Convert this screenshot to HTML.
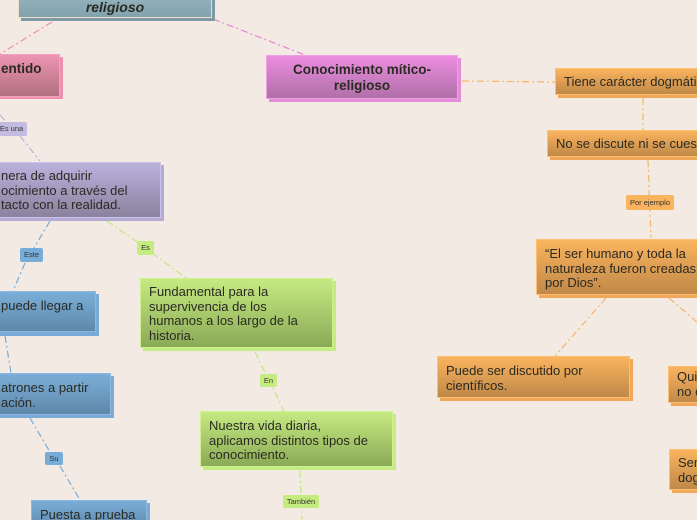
<!DOCTYPE html>
<html><head><meta charset="utf-8"><style>
html,body{margin:0;width:697px;height:520px;overflow:hidden;}
body{background:#f3ebe3;position:relative;font-family:"Liberation Sans",sans-serif;}
.n{position:absolute;box-sizing:border-box;color:#2a2a22;font-size:13px;line-height:14.5px;white-space:nowrap;overflow:hidden;}
.sh{position:absolute;box-sizing:border-box;}
.l{position:absolute;box-sizing:border-box;font-size:7.5px;line-height:13px;text-align:center;border-radius:2px;color:#333;white-space:nowrap;}
svg{position:absolute;left:0;top:0;}
</style></head><body>
<svg width="697" height="520">
<g fill="none" stroke-width="1.2" stroke-dasharray="7,3,2,3">
<line x1="52" y1="22" x2="0" y2="54" stroke="#f08cb4"/>
<line x1="213" y1="19" x2="305" y2="55" stroke="#ea84d8"/>
<line x1="462" y1="81" x2="555" y2="82" stroke="#f7b566"/>
<line x1="643" y1="98" x2="643" y2="130" stroke="#f7b566"/>
<line x1="648" y1="160" x2="651" y2="238" stroke="#f7b566"/>
<line x1="606" y1="298" x2="555" y2="356" stroke="#f7b566"/>
<line x1="669" y1="298" x2="697" y2="322" stroke="#f7b566"/>
<line x1="0" y1="115" x2="8" y2="124" stroke="#b8b0d8"/>
<line x1="20" y1="136" x2="40" y2="161" stroke="#b8b0d8"/>
<line x1="50" y1="221" x2="34" y2="248" stroke="#78acd8"/>
<line x1="25" y1="263" x2="13" y2="291" stroke="#78acd8"/>
<line x1="5" y1="336" x2="11" y2="373" stroke="#78acd8"/>
<line x1="30" y1="418" x2="50" y2="452" stroke="#78acd8"/>
<line x1="60" y1="466" x2="80" y2="500" stroke="#78acd8"/>
<line x1="107" y1="221" x2="140" y2="244" stroke="#c0e880"/>
<line x1="152" y1="253" x2="186" y2="278" stroke="#c0e880"/>
<line x1="255" y1="352" x2="284" y2="411" stroke="#c0e880"/>
<line x1="300" y1="471" x2="302" y2="520" stroke="#c0e880"/>
</g></svg>

<div class="sh" style="left:21px;top:-10px;width:194px;height:31px;background:#7f9aa5"></div>
<div class="n" style="left:18px;top:-12px;width:194px;height:30px;background:linear-gradient(#9ab8c2,#82a2ad);border:1px solid #ecdcc8;text-align:center;font-weight:bold;font-style:italic;font-size:14px;padding-top:11px">religioso</div>

<div class="sh" style="left:-5px;top:57px;width:68px;height:42px;background:#ee90b0"></div>
<div class="n" style="left:-8px;top:54px;width:68px;height:43px;background:linear-gradient(#ee94b4,#b0707e);border:1px solid #f4a0c0;font-weight:bold;font-size:13.5px;padding:7px 0 0 8px">entido</div>

<div class="sh" style="left:269px;top:58px;width:192px;height:44px;background:#e48cd8"></div>
<div class="n" style="left:266px;top:55px;width:192px;height:44px;background:linear-gradient(#ec8ce0,#b070a8);border:1px solid #f0a0e4;font-weight:bold;font-size:13.5px;line-height:16px;text-align:center;padding-top:6px">Conocimiento mítico-<br>religioso</div>

<div class="l" style="left:-4px;top:122px;width:31px;height:14px;background:#c4bce0">Es una</div>
<div class="sh" style="left:-5px;top:165px;width:169px;height:56px;background:#b4acd4"></div>
<div class="n" style="left:-8px;top:162px;width:169px;height:56px;background:linear-gradient(#bab2dc,#8a829e);border:1px solid #cac2e8;padding:6px 0 0 8px">nera de adquirir<br>ocimiento a través del<br>tacto con la realidad.</div>

<div class="l" style="left:20px;top:248px;width:23px;height:14px;background:#78acd8">Este</div>
<div class="sh" style="left:-5px;top:294px;width:104px;height:42px;background:#7aaad8"></div>
<div class="n" style="left:-8px;top:291px;width:104px;height:41px;background:linear-gradient(#7aaed8,#5f88aa);border:1px solid #8ab8e0;padding:7px 0 0 8px">puede llegar a</div>
<div class="sh" style="left:-5px;top:376px;width:119px;height:42px;background:#7aaad8"></div>
<div class="n" style="left:-8px;top:373px;width:119px;height:42px;background:linear-gradient(#7aaed8,#5f88aa);border:1px solid #8ab8e0;padding:7px 0 0 8px">atrones a partir<br>ación.</div>
<div class="l" style="left:45px;top:452px;width:18px;height:13px;background:#78acd8">Su</div>
<div class="sh" style="left:34px;top:503px;width:116px;height:30px;background:#7aaad8"></div>
<div class="n" style="left:31px;top:500px;width:116px;height:30px;background:linear-gradient(#7aaed8,#5f88aa);border:1px solid #8ab8e0;padding:7px 0 0 8px">Puesta a prueba</div>

<div class="l" style="left:137px;top:241px;width:17px;height:14px;background:#c4ec80">Es</div>
<div class="sh" style="left:143px;top:281px;width:193px;height:70px;background:#c4ec80"></div>
<div class="n" style="left:140px;top:278px;width:193px;height:70px;background:linear-gradient(#c6ea82,#8aaa56);border:1px solid #cef290;padding:6px 0 0 8px">Fundamental para la<br>supervivencia de los<br>humanos a los largo de la<br>historia.</div>
<div class="l" style="left:260px;top:374px;width:17px;height:13px;background:#c4ec80">En</div>
<div class="sh" style="left:203px;top:414px;width:193px;height:56px;background:#c4ec80"></div>
<div class="n" style="left:200px;top:411px;width:193px;height:56px;background:linear-gradient(#c6ea82,#8aaa56);border:1px solid #cef290;padding:7px 0 0 8px">Nuestra vida diaria,<br>aplicamos distintos tipos de<br>conocimiento.</div>
<div class="l" style="left:283px;top:495px;width:36px;height:13px;background:#c4ec80">También</div>

<div class="sh" style="left:558px;top:71px;width:150px;height:27px;background:#f0a858"></div>
<div class="n" style="left:555px;top:68px;width:150px;height:27px;background:linear-gradient(#fab45e,#c08848);border:1px solid #fcc070;padding:6px 0 0 8px">Tiene carácter dogmático</div>
<div class="sh" style="left:550px;top:133px;width:160px;height:27px;background:#f0a858"></div>
<div class="n" style="left:547px;top:130px;width:160px;height:27px;background:linear-gradient(#fab45e,#c08848);border:1px solid #fcc070;padding:6px 0 0 8px">No se discute ni se cuestiona</div>
<div class="l" style="left:626px;top:195px;width:48px;height:15px;background:#fab45e;line-height:15px">Por ejemplo</div>
<div class="sh" style="left:539px;top:242px;width:170px;height:56px;background:#f0a858"></div>
<div class="n" style="left:536px;top:239px;width:170px;height:56px;background:linear-gradient(#fab45e,#c08848);border:1px solid #fcc070;padding:7px 0 0 8px">“El ser humano y toda la<br>naturaleza fueron creadas<br>por Dios”.</div>
<div class="sh" style="left:440px;top:359px;width:193px;height:42px;background:#f0a858"></div>
<div class="n" style="left:437px;top:356px;width:193px;height:42px;background:linear-gradient(#fab45e,#c08848);border:1px solid #fcc070;padding:7px 0 0 8px">Puede ser discutido por<br>científicos.</div>
<div class="sh" style="left:671px;top:369px;width:40px;height:37px;background:#f0a858"></div>
<div class="n" style="left:668px;top:366px;width:40px;height:37px;background:linear-gradient(#fab45e,#c08848);border:1px solid #fcc070;padding:3px 0 0 8px">Quienes<br>no creen</div>
<div class="sh" style="left:672px;top:452px;width:40px;height:41px;background:#f0a858"></div>
<div class="n" style="left:669px;top:449px;width:40px;height:41px;background:linear-gradient(#fab45e,#c08848);border:1px solid #fcc070;padding:6px 0 0 8px">Ser<br>dogma</div>
</body></html>
